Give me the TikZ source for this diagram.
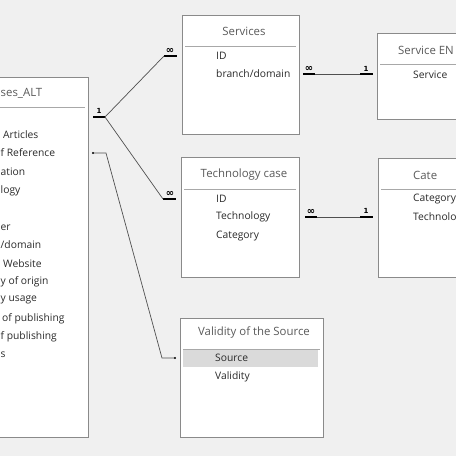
\documentclass[tikz,border=0pt]{standalone}
\usepackage{fontspec}
\setmainfont{Open Sans}
\newfontfamily\symfont{DejaVu Sans}
\definecolor{bg}{HTML}{F0F0F0}
\definecolor{boxline}{HTML}{8A8A8A}
\definecolor{sepline}{HTML}{A8A8A8}
\definecolor{titletxt}{HTML}{5A5A5A}
\definecolor{rowtxt}{HTML}{2A2A2A}
\definecolor{hl}{HTML}{DADADA}
\definecolor{conn}{HTML}{505050}
\tikzset{
  x=1pt, y=-1pt,
  tbl/.style={draw=boxline, fill=white, line width=0.9pt},
  sep/.style={draw=sepline, line width=0.9pt},
  ttl/.style={inner sep=0pt, text=titletxt, font=\fontsize{11.4}{13}\selectfont},
  row/.style={inner sep=0pt, anchor=west, text=rowtxt, font=\fontsize{10.3}{12}\selectfont},
  bar/.style={line width=2.6pt, draw=black},
  card/.style={inner sep=0pt, font=\symfont\bfseries\fontsize{7}{8}\selectfont},
  inf/.style={inner sep=0pt, font=\symfont\bfseries\fontsize{10}{10}\selectfont},
  cn/.style={draw=conn, line width=0.7pt},
  dot/.style={circle, fill=black, inner sep=0pt, minimum size=2.2pt}
}
\begin{document}
\begin{tikzpicture}
\useasboundingbox (0,0) rectangle (456,456);
\fill[bg] (0,0) rectangle (456,456);

% ---- left table (clipped) ----
\begin{scope}
\clip (0,0) rectangle (456,456);
\draw[tbl] (-10,77) rectangle (88,437);
\draw[sep] (-10,107) -- (85,107);
\end{scope}
\node[ttl, anchor=west] (lt) at (0.5,93) {ses\_ALT};
\node[row] (l1) at (3,135) {Articles};
\node[row] (l2) at (0.5,153) {f Reference};
\node[row] (l3) at (0.5,172) {ation};
\node[row] (l4) at (0.5,191) {logy};
\node[row] (l5) at (0.5,228) {er};
\node[row] (l6) at (0.5,245) {/domain};
\node[row] (l7) at (3,264) {Website};
\node[row] (l8) at (0.5,282) {y of origin};
\node[row] (l9) at (0.5,300) {y usage};
\node[row] (l10) at (2,319) {of publishing};
\node[row] (l11) at (0.5,337) {f publishing};
\node[row] (l12) at (0.5,355) {s};

% ---- Services ----
\draw[tbl] (182,15) rectangle (299,134);
\draw[sep] (185,46) -- (296,46);
\node[ttl] (st) at (244,31) {Services};
\node[row] (s1) at (216,56) {ID};
\node[row] (s2) at (216,74) {branch/domain};

% ---- Service EN ----
\draw[tbl] (377,33) rectangle (470,119);
\draw[sep] (380,64) -- (470,64);
\node[ttl, anchor=west] (et) at (398,50) {Service EN};
\node[row] (e1) at (413,75) {Service};

% ---- Technology case ----
\draw[tbl] (181,157) rectangle (299,277);
\draw[sep] (184,189) -- (296,189);
\node[ttl] (tt) at (244,175) {Technology case};
\node[row] (t1) at (216,199) {ID};
\node[row] (t2) at (216,217) {Technology};
\node[row] (t3) at (216,236) {Category};

% ---- Category ----
\draw[tbl] (378,158) rectangle (470,277);
\draw[sep] (381,189) -- (470,189);
\node[ttl, anchor=west] (ct) at (413,175) {Cate};
\node[row] (c1) at (413,199) {Category};
\node[row] (c2) at (413,217) {Technolo};

% ---- Validity of the Source ----
\draw[tbl] (180,318) rectangle (323,437);
\fill[hl] (183,349) rectangle (318,367);
\draw[sep] (183,349) -- (320,349);
\node[ttl] (vt) at (254,333) {Validity of the Source};
\node[row] (v1) at (215,358) {Source};
\node[row] (v2) at (215,377) {Validity};

% ---- connector end points ----
\coordinate (a0) at (93,117);
\coordinate (a1) at (105,117);
\coordinate (b0) at (164,56);
\coordinate (b1) at (177,56);
\coordinate (d0) at (163,199);
\coordinate (d1) at (176,199);
\coordinate (f0) at (303,74);
\coordinate (f1) at (315,74);
\coordinate (g0) at (360,74);
\coordinate (g1) at (373,74);
\coordinate (h0) at (305,217);
\coordinate (h1) at (317,217);
\coordinate (k0) at (360,217);
\coordinate (k1) at (373,217);
\coordinate (m0) at (93,153);
\coordinate (m1) at (106,153);
\coordinate (m2) at (162,358);
\coordinate (m3) at (175,358);

% bars
\draw[bar] (a0) -- (a1);
\draw[bar] (b0) -- (b1);
\draw[bar] (d0) -- (d1);
\draw[bar] (f0) -- (f1);
\draw[bar] (g0) -- (g1);
\draw[bar] (h0) -- (h1);
\draw[bar] (k0) -- (k1);

% cardinality labels
\node[card] (ca) at (99,111) {1};
\node[inf] (cb) at (170,50.5) {∞};
\node[inf] (cd) at (170,193.5) {∞};
\node[inf] (cf) at (309,68.5) {∞};
\node[card] (cg) at (366,69) {1};
\node[inf] (ch) at (311,211.5) {∞};
\node[card] (ck) at (366,211) {1};

% lines
\draw[cn] (a1) -- (b0);
\draw[cn] (a1) -- (d0);
\draw[cn] (f1) -- (g0);
\draw[cn] (h1) -- (k0);
\draw[cn] (m0) -- (m1) -- (m2) -- (m3);
\node[dot] (md0) at (m0) {};
\node[dot] (md3) at (m3) {};
\end{tikzpicture}
\end{document}
